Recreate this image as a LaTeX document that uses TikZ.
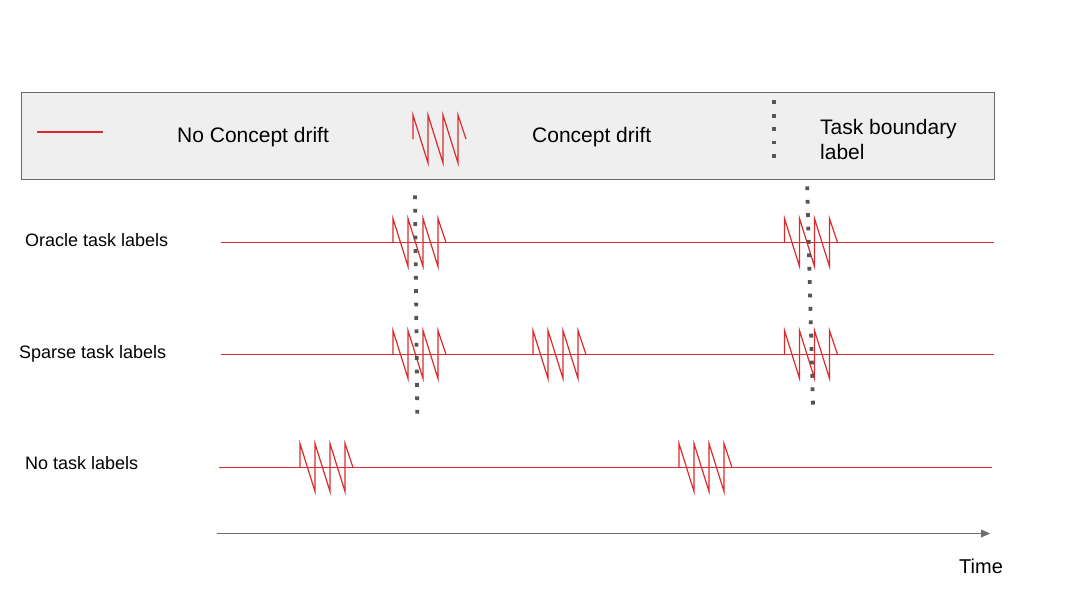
\documentclass[tikz,border=0pt]{standalone}
\usepackage{fontspec}
\setmainfont{Liberation Sans}
\usetikzlibrary{arrows.meta}
\definecolor{driftred}{HTML}{DC2A2E}
\definecolor{boxfill}{HTML}{EFEFEF}
\definecolor{boxdraw}{HTML}{6A6A6A}
\definecolor{dotgray}{HTML}{555555}
\definecolor{axisgray}{HTML}{6E6E6E}
\tikzset{
  timeline/.style={draw=driftred, line width=1.3pt},
  drift/.pic={\draw[driftred, line width=1.2pt, line join=miter]
     (0,0) -- (0,-24) -- (15,24) -- (15,-24) -- (30,24) -- (30,-24) -- (45,24) -- (45,-24) -- (53,0);},
  dotline/.style={draw=dotgray, line width=3.8pt, dash pattern=on 3.8pt off 9.6pt},
  legendtext/.style={anchor=base west, inner sep=0pt, font=\fontsize{21}{25}\selectfont, align=left},
  rowlabel/.style={anchor=base west, inner sep=0pt, font=\fontsize{18}{21}\selectfont},
  legendbox/.style={draw=boxdraw, fill=boxfill, line width=1pt, minimum width=973pt, minimum height=87pt, inner sep=0pt},
  timearrow/.style={draw=axisgray, line width=1pt, -{Triangle[length=9pt,width=8pt]}}
}
\begin{document}
\begin{tikzpicture}[x=1pt,y=-1pt]
\useasboundingbox (0,0) rectangle (1080,608);
\fill[white] (0,0) rectangle (1080,608);

% legend
\node[legendbox] (legend) at (507.5,135.5) {};
\coordinate (lgA) at (37,132);
\coordinate (lgB) at (103,132);
\draw[timeline] (lgA) -- (lgB);
\node[legendtext] (lnocd) at (177,142.3) {No Concept drift};
\pic at (413,139) {drift};
\node[legendtext] (lcd) at (532,142.3) {Concept drift};
\coordinate (ldA) at (774,100.4);
\coordinate (ldB) at (774,158);
\draw[dotline] (ldA) -- (ldB);
\node[legendtext, anchor=north west] (ltb) at (820,119) {Task boundary\\label};

% row labels
\node[rowlabel] (oracle) at (25,246.7) {Oracle task labels};
\node[rowlabel] (sparse) at (19,358.3) {Sparse task labels};
\node[rowlabel] (notask) at (25,469.5) {No task labels};

% timelines
\coordinate (r1A) at (221,242.5);
\coordinate (r1B) at (994,242.5);
\coordinate (r2A) at (221,354.5);
\coordinate (r2B) at (994,354.5);
\coordinate (r3A) at (219,467.5);
\coordinate (r3B) at (992,467.5);
\draw[timeline] (r1A) -- (r1B);
\draw[timeline] (r2A) -- (r2B);
\draw[timeline] (r3A) -- (r3B);

\pic at (393,242.5) {drift};
\pic at (784.5,242.5) {drift};
\pic at (393,354.5) {drift};
\pic at (533,354.5) {drift};
\pic at (784.5,354.5) {drift};
\pic at (300,467.5) {drift};
\pic at (679,467.5) {drift};

% task boundaries
\coordinate (b1A) at (415,195.4);
\coordinate (b1B) at (417.3,414);
\coordinate (b2A) at (807.2,186.4);
\coordinate (b2B) at (813,406);
\draw[dotline] (b1A) -- (b1B);
\draw[dotline] (b2A) -- (b2B);

% time axis
\coordinate (tA) at (217,533.5);
\coordinate (tB) at (990,533.5);
\draw[timearrow] (tA) -- (tB);
\node[anchor=base west, inner sep=0pt, font=\fontsize{20}{24}\selectfont] (time) at (959,573.5) {Time};
\end{tikzpicture}
\end{document}
